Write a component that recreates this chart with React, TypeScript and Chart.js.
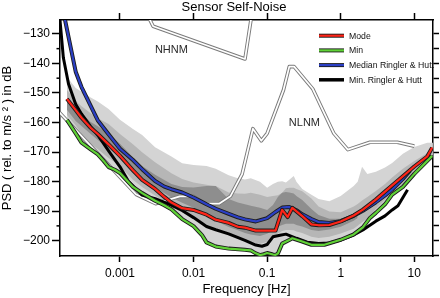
import React, { useEffect, useRef } from "react";
import { Chart, registerables } from "chart.js";

Chart.register(...registerables);

const FONT = '"Liberation Sans", Arial, Helvetica, sans-serif';

// ---- axes ----
const X_MIN = 1.53e-4;
const X_MAX = 17.96;
const Y_MIN = -205.2;
const Y_MAX = -125.3;
const xTickValues = [0.001, 0.01, 0.1, 1, 10];
const yTickValues = [-200, -190, -180, -170, -160, -150, -140, -130];
const yMinorTickValues = [-195, -185, -175, -165, -155, -145, -135];
const yRightTickValues = [-205, -200, -195, -190, -185, -180, -175, -170, -165, -160, -155, -150, -145, -140, -135, -130];

// ---- Mode (red) ----
const modeFreq = [1.9e-4, 2.5e-4, 3e-4, 4e-4, 5e-4, 7e-4, 1e-3, 1.5e-3, 2e-3, 3e-3, 4e-3, 5e-3, 7e-3, 0.01, 0.015, 0.02, 0.03, 0.04, 0.05, 0.07, 0.1, 0.13, 0.16, 0.19, 0.22, 0.3, 0.4, 0.5, 0.7, 1, 1.5, 2, 3, 4, 5, 7, 10, 15, 17.5];
const modeDb = [-152.0, -155.8, -158.4, -161.8, -163.9, -167.4, -171.3, -176.2, -179.4, -182.5, -185.2, -187.1, -189.0, -189.6, -191.2, -192.9, -194.0, -195.3, -195.6, -196.6, -196.6, -196.6, -189.6, -192.0, -188.9, -191.7, -194.5, -194.8, -194.7, -193.5, -191.5, -189.5, -186.1, -183.4, -181.3, -178.2, -174.9, -171.5, -168.5];

// ---- Median Ringler & Hutt (blue) ----
const medianFreq = [1.68e-4, 2e-4, 2.5e-4, 3e-4, 4e-4, 5e-4, 7e-4, 1e-3, 1.5e-3, 2e-3, 3e-3, 4e-3, 5e-3, 7e-3, 0.01, 0.015, 0.02, 0.03, 0.04, 0.05, 0.07, 0.1, 0.13, 0.16, 0.2, 0.25, 0.3, 0.4, 0.5, 0.7, 1, 1.5, 2, 3, 4, 5, 7, 8.8];
const medianDb = [-121.9, -131.1, -142.8, -148.0, -154.4, -159.3, -164.0, -168.9, -172.7, -175.8, -179.8, -181.7, -182.6, -183.7, -185.4, -187.7, -189.2, -190.9, -192.1, -192.8, -193.5, -192.4, -190.3, -188.8, -188.6, -189.7, -191.1, -192.7, -193.7, -194.0, -193.4, -191.6, -189.9, -187.0, -184.7, -182.7, -179.1, -176.2];

// ---- Min (green) ----
const minFreq = [1.9e-4, 2.5e-4, 3e-4, 4e-4, 5e-4, 6e-4, 7e-4, 8.5e-4, 1e-3, 1.5e-3, 2e-3, 3e-3, 4e-3, 5e-3, 7e-3, 0.01, 0.013, 0.015, 0.02, 0.03, 0.05, 0.06, 0.07, 0.08, 0.09, 0.1, 0.12, 0.13, 0.14, 0.16, 0.2, 0.22, 0.3, 0.4, 0.6, 1, 1.5, 2, 2.5, 3, 4, 5, 7, 10, 15, 17.5];
const minDb = [-159.1, -163.7, -166.8, -169.1, -170.8, -173.0, -175.1, -176.0, -177.1, -181.8, -183.9, -186.5, -188.0, -189.4, -192.7, -195.1, -198.1, -200.6, -202.0, -202.7, -203.1, -203.3, -204.3, -204.9, -204.6, -204.2, -204.7, -204.8, -204.4, -201.0, -199.8, -199.2, -200.3, -201.4, -201.4, -199.7, -197.9, -195.5, -192.3, -190.6, -187.7, -184.4, -181.8, -177.4, -173.0, -171.3];

// ---- Min. Ringler & Hutt (black) ----
const minRHFreq = [1.5e-4, 1.7e-4, 2e-4, 2.5e-4, 3e-4, 4e-4, 5e-4, 7e-4, 1e-3, 1.3e-3, 2e-3, 3e-3, 5e-3, 7e-3, 0.01, 0.015, 0.02, 0.03, 0.05, 0.07, 0.085, 0.1, 0.12, 0.15, 0.18, 0.25, 0.35, 0.5, 0.7, 1, 1.5, 2, 3, 4, 5, 6, 8.1];
const minRHDb = [-123.0, -138.1, -147.0, -153.8, -157.1, -161.4, -164.3, -169.6, -175.0, -179.9, -184.6, -185.8, -188.0, -189.8, -192.2, -195.2, -196.3, -197.7, -199.9, -201.5, -201.9, -201.3, -198.7, -198.2, -197.8, -199.2, -200.5, -201.0, -200.8, -199.8, -198.1, -196.4, -193.4, -191.6, -189.6, -188.2, -182.8];

// ---- PDF shading bands ----
const bandFreq = [1.9e-4, 2.5e-4, 3e-4, 4e-4, 5e-4, 7e-4, 1e-3, 1.5e-3, 2e-3, 3e-3, 5e-3, 7e-3, 0.01, 0.015, 0.02, 0.03, 0.04, 0.05, 0.06, 0.08, 0.1, 0.12, 0.14, 0.16, 0.18, 0.2, 0.23, 0.25, 0.3, 0.4, 0.5, 0.7, 1, 1.5, 1.7, 1.95, 2.3, 3, 4, 5, 7, 10, 15, 17.9];
const lightTop = [-144.6, -148.3, -149.6, -151.5, -152.9, -155.4, -159.1, -162.2, -164.2, -168.4, -171.5, -173.8, -174.4, -174.7, -175.7, -177.9, -178.9, -179.3, -178.9, -180.1, -182.1, -180.8, -180.1, -179.9, -180.3, -179.4, -178.1, -180.1, -182.5, -184.5, -185.9, -186.7, -184.9, -181.5, -180.1, -175.0, -177.4, -176.7, -175.2, -173.7, -170.6, -168.3, -166.9, -166.9];
const lightBottom = [-159.0, -163.3, -166.3, -168.6, -170.3, -174.5, -176.6, -181.3, -183.4, -186.0, -188.9, -192.2, -194.6, -200.0, -201.5, -202.2, -202.5, -202.6, -202.8, -204.4, -203.7, -204.2, -203.6, -200.5, -199.6, -199.3, -198.8, -199.2, -199.8, -200.9, -200.9, -200.7, -199.2, -197.4, -196.5, -195.3, -193.0, -190.1, -187.2, -183.9, -181.3, -176.9, -172.5, -170.8];
const midTop = [-149.0, -152.7, -154.5, -156.9, -158.6, -160.5, -163.9, -167.4, -170.1, -173.5, -177.2, -179.1, -180.3, -181.1, -181.5, -183.7, -184.0, -184.1, -183.8, -184.5, -185.2, -184.9, -184.6, -183.8, -182.3, -182.1, -182.1, -182.5, -183.3, -185.7, -188.4, -190.1, -190.4, -188.4, -187.6, -186.4, -185.2, -183.2, -180.8, -178.6, -175.7, -173.0, -170.3, -169.3];
const midBottom = [-157.4, -161.0, -163.7, -167.2, -169.1, -172.0, -174.7, -179.4, -181.8, -184.7, -188.6, -190.4, -192.5, -195.0, -196.4, -198.2, -199.2, -199.9, -200.4, -201.1, -200.4, -199.1, -197.6, -196.7, -196.4, -196.4, -196.5, -196.9, -197.4, -198.7, -199.1, -198.7, -197.6, -196.0, -195.0, -193.8, -192.6, -189.3, -186.2, -183.8, -180.8, -177.4, -173.0, -171.0];
const darkFreq = [1.9e-4, 2.5e-4, 3e-4, 4e-4, 5e-4, 7e-4, 1e-3, 1.5e-3, 2e-3, 3e-3, 5e-3, 7e-3, 0.01, 0.015, 0.02, 0.03, 0.04, 0.05, 0.06, 0.08, 0.1, 0.12, 0.14, 0.16, 0.18, 0.2, 0.23, 0.25, 0.3, 0.4, 0.5, 0.7, 1, 1.5, 1.7];
const darkTop = [-152.3, -155.6, -156.9, -159.8, -161.3, -163.9, -167.2, -171.8, -174.7, -177.7, -180.8, -181.8, -182.0, -181.5, -181.5, -185.9, -187.1, -187.7, -188.2, -188.9, -189.6, -187.9, -185.2, -183.8, -183.5, -183.7, -184.0, -184.9, -186.2, -189.3, -191.3, -192.6, -192.6, -190.9, -190.3];
const darkBottom = [-155.7, -159.5, -161.2, -163.9, -165.9, -168.8, -172.0, -176.2, -178.8, -182.0, -185.4, -187.2, -188.9, -191.6, -193.3, -195.4, -196.5, -197.4, -197.9, -198.4, -197.7, -196.4, -195.3, -194.7, -194.3, -194.3, -194.3, -194.7, -195.2, -196.4, -196.7, -196.2, -195.3, -193.3, -192.3];

// ---- Peterson noise models ----
const nlnmFreq = [1e-4, 1.667e-3, 3.049e-3, 6.494e-3, 9.901e-3, 0.01429, 0.02222, 0.03165, 0.04566, 0.0641, 0.0833, 0.1, 0.1667, 0.2, 0.2326, 0.4167, 0.8065, 1.25, 2.5, 5.882, 10];
const nlnmDb = [-151.9, -184.4, -187.5, -185.0, -185.0, -187.5, -187.5, -185.0, -177.5, -162.1, -166.2, -163.7, -149.0, -141.1, -141.1, -148.6, -163.7, -169.2, -166.7, -166.7, -168.0];
const nhnmFreq = [0.0021, 0.002818, 0.05, 0.0649];
const nhnmDb = [-121.0, -127.4, -138.5, -120.0];

const nhnmLabel = { text: "NHNM", f: 0.005, db: -135.4 };
const nlnmLabel = { text: "NLNM", f: 0.321, db: -160.1 };

const RED = "#ff2418";
const GREEN = "#5fd236";
const BLUE = "#2b3fc4";
const OUTLINE = "#1c1c1c";
const MODEL_EDGE = "#7a7a7a";

const legendItems = [
  { label: "Mode", color: RED, outlined: true },
  { label: "Min", color: GREEN, outlined: true },
  { label: "Median Ringler & Hutt", color: BLUE, outlined: true },
  { label: "Min. Ringler & Hutt", color: "#000000", outlined: false },
];

const pts = (xs: number[], ys: number[]) => xs.map((x, i) => ({ x, y: ys[i] }));

function line(label: string, xs: number[], ys: number[], color: string, width: number, order: number, extra: any = {}) {
  return {
    label,
    data: pts(xs, ys),
    borderColor: color,
    backgroundColor: color,
    borderWidth: width,
    pointRadius: 0,
    pointHoverRadius: 0,
    fill: false,
    tension: 0,
    order,
    borderJoinStyle: "round",
    borderCapStyle: "butt",
    ...extra,
  };
}

function band(xs: number[], lo: number[], hi: number[], color: string, order: number) {
  return [
    line("lo", xs, lo, "rgba(0,0,0,0)", 0, order),
    line("hi", xs, hi, "rgba(0,0,0,0)", 0, order, { fill: "-1", backgroundColor: color }),
  ];
}

const overlayPlugin = {
  id: "overlay",
  afterDraw(chart: any) {
    const { ctx, chartArea, scales } = chart;
    const xs = scales.x;
    const ys = scales.y;
    ctx.save();
    // minor ticks on left axis
    ctx.strokeStyle = "#000";
    ctx.lineWidth = 1.5;
    for (const v of yMinorTickValues) {
      const py = ys.getPixelForValue(v);
      ctx.beginPath();
      ctx.moveTo(chartArea.left - 3.5, py);
      ctx.lineTo(chartArea.left, py);
      ctx.stroke();
    }
    // title
    ctx.fillStyle = "#000";
    ctx.font = `13px ${FONT}`;
    ctx.textAlign = "center";
    ctx.textBaseline = "alphabetic";
    ctx.fillText("Sensor Self-Noise", 234, 10.5);
    // model labels
    ctx.font = `11px ${FONT}`;
    ctx.fillStyle = "#2a2a2a";
    ctx.textBaseline = "middle";
    for (const l of [nhnmLabel, nlnmLabel]) {
      ctx.fillText(l.text, xs.getPixelForValue(l.f), ys.getPixelForValue(l.db));
    }
    // legend
    const x0 = chartArea.right - 114;
    const x1 = chartArea.right - 89;
    const tx = chartArea.right - 84;
    ctx.font = `8.7px ${FONT}`;
    ctx.textAlign = "left";
    legendItems.forEach((it, i) => {
      const ly = chartArea.top + 15.7 + i * 14.7;
      const seg = (c: string, w: number) => {
        ctx.strokeStyle = c;
        ctx.lineWidth = w;
        ctx.beginPath();
        ctx.moveTo(x0, ly);
        ctx.lineTo(x1, ly);
        ctx.stroke();
      };
      if (it.outlined) {
        seg(OUTLINE, 4);
        seg(it.color, 2.2);
      } else {
        seg("#000", 3.5);
      }
      ctx.fillStyle = "#111";
      ctx.fillText(it.label, tx, ly + 0.5);
    });
    ctx.restore();
  },
};

export default function App() {
  const ref = useRef<HTMLCanvasElement | null>(null);
  useEffect(() => {
    if (!ref.current) return;
    Chart.defaults.font.family = FONT;
    const tickFont = { family: FONT, size: 12 };
    const border = { display: true, color: "#000", width: 1.5 };
    const gridBase = { drawOnChartArea: false, drawTicks: true, tickColor: "#000", tickWidth: 1.5 };
    const datasets: any[] = [
      ...band(bandFreq, lightBottom, lightTop, "#d4d4d4", 100),
      ...band(bandFreq, midBottom, midTop, "#b6b6b6", 99),
      ...band(darkFreq, darkBottom, darkTop, "#8e8e8e", 98),
      line("NLNM-o", nlnmFreq, nlnmDb, MODEL_EDGE, 3.6, 61),
      line("NLNM", nlnmFreq, nlnmDb, "#ffffff", 1.7, 60),
      line("NHNM-o", nhnmFreq, nhnmDb, MODEL_EDGE, 3.6, 61),
      line("NHNM", nhnmFreq, nhnmDb, "#ffffff", 1.7, 60),
      line("Min. Ringler & Hutt", minRHFreq, minRHDb, "#000000", 3, 40),
      line("Min-o", minFreq, minDb, OUTLINE, 4, 31),
      line("Min", minFreq, minDb, GREEN, 2.2, 30),
      line("Median-o", medianFreq, medianDb, OUTLINE, 4, 21),
      line("Median Ringler & Hutt", medianFreq, medianDb, BLUE, 2.2, 20),
      line("Mode-o", modeFreq, modeDb, OUTLINE, 4, 11),
      line("Mode", modeFreq, modeDb, RED, 2.2, 10),
    ];
    const chart = new Chart(ref.current, {
      type: "line",
      data: { datasets },
      plugins: [overlayPlugin],
      options: {
        animation: false,
        responsive: false,
        maintainAspectRatio: false,
        devicePixelRatio: 1,
        layout: { padding: 0 },
        events: [],
        plugins: {
          legend: { display: false },
          tooltip: { enabled: false },
          title: { display: false },
        },
        scales: {
          x: {
            type: "logarithmic",
            position: "bottom",
            min: X_MIN,
            max: X_MAX,
            afterBuildTicks: (s: any) => {
              s.ticks = xTickValues.map((v) => ({ value: v }));
            },
            afterFit: (s: any) => {
              s.height = 42;
            },
            ticks: {
              callback: (v: any) => String(v),
              font: tickFont,
              color: "#000",
              padding: 4,
              maxRotation: 0,
              autoSkip: false,
            },
            grid: { ...gridBase, tickLength: 6 },
            border,
            title: {
              display: true,
              text: "Frequency [Hz]",
              font: { family: FONT, size: 13 },
              color: "#000",
              padding: { top: 0, bottom: 1 },
            },
          },
          x2: {
            type: "logarithmic",
            position: "top",
            min: X_MIN,
            max: X_MAX,
            afterBuildTicks: (s: any) => {
              s.ticks = xTickValues.map((v) => ({ value: v }));
            },
            afterFit: (s: any) => {
              s.height = 20;
            },
            ticks: { display: false },
            grid: { ...gridBase, tickLength: 7 },
            border,
          },
          y: {
            type: "linear",
            position: "left",
            min: Y_MIN,
            max: Y_MAX,
            afterBuildTicks: (s: any) => {
              s.ticks = yTickValues.map((v) => ({ value: v }));
            },
            afterFit: (s: any) => {
              s.width = 60;
            },
            ticks: {
              callback: (v: any) => "\u2212" + Math.abs(Number(v)),
              font: tickFont,
              color: "#000",
              padding: 2,
            },
            grid: { ...gridBase, tickLength: 8 },
            border,
            title: {
              display: true,
              text: "PSD ( rel. to m/s \u00b2 ) in dB",
              font: { family: FONT, size: 13 },
              color: "#000",
              padding: { top: 0, bottom: 0 },
            },
          },
          y2: {
            type: "linear",
            position: "right",
            min: Y_MIN,
            max: Y_MAX,
            afterBuildTicks: (s: any) => {
              s.ticks = yRightTickValues.map((v) => ({ value: v }));
            },
            afterFit: (s: any) => {
              s.width = 7;
            },
            ticks: { display: false },
            grid: { ...gridBase, tickLength: 6 },
            border,
          },
        },
      } as any,
    });
    return () => chart.destroy();
  }, []);
  return (
    <div style={{ position: "fixed", left: 0, top: 0, width: 440, height: 298, background: "#fff" }}>
      <canvas ref={ref} width={440} height={298} style={{ display: "block", width: 440, height: 298 }} />
    </div>
  );
}
